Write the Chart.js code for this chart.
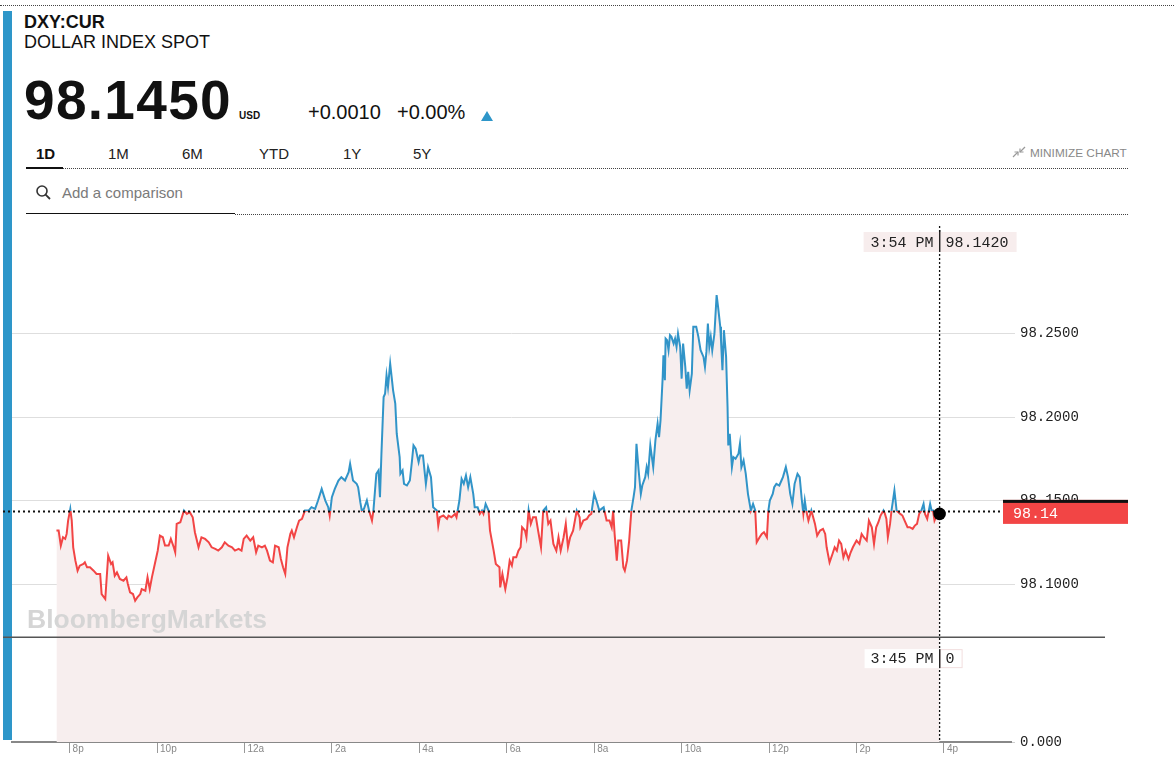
<!DOCTYPE html>
<html>
<head>
<meta charset="utf-8">
<script src="https://cdn.jsdelivr.net/npm/chart.js@4.4.1/dist/chart.umd.min.js"></script>
<style>
  html, body { margin: 0; padding: 0; background: #fff; overflow: hidden; }
  body { width: 1174px; height: 784px; position: relative; font-family: "Liberation Sans", Arial, sans-serif; color: #111; }
  .abs { position: absolute; line-height: 1; white-space: nowrap; }
  .dots { position: absolute; height: 0; border-top: 1px dotted #444; }
  .solid { position: absolute; background: #111; }
</style>
</head>
<body>
<div class="dots" style="left:0;top:5px;width:1174px;"></div>
<div style="position:absolute;left:3px;top:11px;width:9px;height:729px;background:#2e96c9;"></div>

<div class="abs" style="left:24px;top:13px;font-size:18px;font-weight:bold;">DXY:CUR</div>
<div class="abs" style="left:24px;top:33px;font-size:18px;">DOLLAR INDEX SPOT</div>
<div class="abs" style="left:24px;top:73px;font-size:55px;font-weight:bold;letter-spacing:1.3px;">98.1450</div>
<div class="abs" style="left:239px;top:111px;font-size:10px;font-weight:bold;">USD</div>
<div class="abs" style="left:308px;top:102px;font-size:20px;">+0.0010</div>
<div class="abs" style="left:397px;top:102px;font-size:20px;">+0.00%</div>
<svg style="position:absolute;left:480px;top:110px" width="14" height="12"><polygon points="1,11 13,11 7,1" fill="#2e96c9"/></svg>

<div class="abs" style="left:36px;top:146px;font-size:15px;font-weight:bold;">1D</div>
<div class="abs" style="left:108px;top:146px;font-size:15px;color:#222;">1M</div>
<div class="abs" style="left:182px;top:146px;font-size:15px;color:#222;">6M</div>
<div class="abs" style="left:259px;top:146px;font-size:15px;color:#222;">YTD</div>
<div class="abs" style="left:343px;top:146px;font-size:15px;color:#222;">1Y</div>
<div class="abs" style="left:413px;top:146px;font-size:15px;color:#222;">5Y</div>
<div class="solid" style="left:26px;top:167px;width:37px;height:2px;"></div>
<div class="dots" style="left:63px;top:168px;width:1065px;"></div>

<svg style="position:absolute;left:1012px;top:146px" width="14" height="12">
  <g stroke="#999" stroke-width="1.2" fill="none">
    <line x1="13" y1="1" x2="8" y2="6"/><polyline points="8,2.5 8,6 11.5,6"/>
    <line x1="1" y1="11" x2="6" y2="6"/><polyline points="2.5,6 6,6 6,9.5"/>
  </g>
</svg>
<div class="abs" style="left:1030px;top:147.5px;font-size:11.8px;color:#888;">MINIMIZE CHART</div>

<svg style="position:absolute;left:34px;top:184px" width="20" height="18">
  <circle cx="8" cy="7" r="5" stroke="#333" stroke-width="1.6" fill="none"/>
  <line x1="11.6" y1="10.6" x2="16" y2="15" stroke="#333" stroke-width="1.8"/>
</svg>
<div class="abs" style="left:62px;top:185px;font-size:15px;color:#7a7a7a;">Add a comparison</div>
<div class="solid" style="left:26px;top:212.5px;width:209px;height:1.5px;"></div>
<div class="dots" style="left:235px;top:214px;width:893px;"></div>

<canvas id="chart" width="1174" height="564" style="position:absolute;left:0;top:220px;"></canvas>

<script>
// minutes after 8:00 PM (previous day) and DXY spot values
const times = [
  -18, -15, -12, -9, -6, -4, -2, 1, 3, 5, 8, 11, 14, 19, 21, 24, 28, 33, 37, 42,
  44, 49, 53, 57, 59, 62, 65, 69, 74, 78, 80, 83, 87, 90, 93, 97, 99, 104, 107, 110,
  113, 117, 121, 124, 128, 131, 136, 139, 143, 145, 147, 152, 157, 161, 165, 169, 172, 177, 181, 186,
  191, 195, 200, 204, 209, 213, 218, 223, 227, 232, 236, 239, 243, 248, 252, 256, 259, 264, 268, 271,
  275, 279, 282, 287, 290, 293, 296, 299, 303, 305, 308, 312, 315, 319, 323, 328, 332, 337, 341, 346,
  351, 355, 357, 360, 364, 369, 373, 378, 383, 385, 389, 394, 396, 399, 401, 404, 408, 411, 415, 417,
  421, 424, 426, 428, 431, 433, 435, 437, 440, 442, 444, 447, 449, 453, 454, 457, 459, 463, 467, 470,
  472, 475, 479, 481, 485, 489, 492, 496, 499, 504, 506, 508, 513, 518, 520, 524, 529, 531, 535, 538,
  541, 544, 547, 550, 554, 556, 560, 563, 566, 568, 571, 575, 577, 582, 585, 590, 591, 594, 598, 601,
  604, 607, 609, 613, 616, 619, 621, 625, 627, 630, 633, 636, 640, 643, 647, 650, 654, 657, 660, 664,
  668, 671, 674, 678, 681, 684, 687, 691, 696, 700, 701, 705, 710, 713, 716, 720, 723, 727, 730, 733,
  737, 741, 744, 746, 748, 751, 753, 757, 760, 762, 765, 768, 771, 774, 776, 778, 781, 784, 786, 790,
  792, 794, 797, 801, 804, 807, 809, 811, 814, 815, 817, 818, 820, 822, 824, 826, 829, 831, 833, 835,
  838, 840, 842, 845, 847, 849, 851, 854, 856, 860, 863, 866, 870, 872, 874, 876, 878, 880, 882, 885,
  888, 890, 893, 894, 896, 898, 901, 903, 904, 906, 909, 911, 914, 918, 920, 922, 925, 928, 931, 935,
  938, 941, 943, 947, 950, 953, 957, 959, 961, 965, 967, 970, 974, 977, 979, 983, 986, 989, 992, 995,
  999, 1002, 1005, 1007, 1009, 1011, 1014, 1018, 1023, 1026, 1030, 1034, 1037, 1039, 1043, 1047, 1050, 1053, 1056, 1059,
  1062, 1065, 1069, 1072, 1075, 1080, 1084, 1087, 1090, 1094, 1097, 1101, 1104, 1107, 1110, 1113, 1117, 1119, 1121, 1123,
  1126, 1128, 1130, 1132, 1135, 1140, 1143, 1146, 1150, 1153, 1157, 1160, 1163, 1166, 1169, 1172, 1174, 1177, 1181, 1183,
  1185, 1187, 1190, 1194
];
const values = [
  98.132, 98.132, 98.123, 98.128, 98.127, 98.130, 98.138, 98.145, 98.138, 98.122, 98.114, 98.108, 98.111, 98.112, 98.113, 98.110, 98.110, 98.108, 98.106, 98.106,
  98.094, 98.091, 98.117, 98.112, 98.113, 98.105, 98.107, 98.103, 98.102, 98.104, 98.100, 98.095, 98.094, 98.090, 98.092, 98.094, 98.097, 98.096, 98.104, 98.097,
  98.104, 98.112, 98.120, 98.129, 98.128, 98.123, 98.123, 98.127, 98.122, 98.119, 98.136, 98.137, 98.144, 98.142, 98.143, 98.140, 98.131, 98.122, 98.128, 98.127,
  98.125, 98.122, 98.121, 98.120, 98.122, 98.125, 98.123, 98.122, 98.120, 98.121, 98.120, 98.127, 98.129, 98.126, 98.128, 98.119, 98.123, 98.122, 98.123, 98.120,
  98.114, 98.113, 98.123, 98.122, 98.115, 98.110, 98.106, 98.122, 98.130, 98.132, 98.128, 98.134, 98.138, 98.139, 98.144, 98.144, 98.146, 98.145, 98.150, 98.157,
  98.150, 98.146, 98.141, 98.152, 98.157, 98.162, 98.164, 98.162, 98.167, 98.172, 98.162, 98.160, 98.158, 98.149, 98.144, 98.145, 98.150, 98.144, 98.138, 98.144,
  98.166, 98.168, 98.152, 98.178, 98.212, 98.214, 98.225, 98.218, 98.232, 98.224, 98.216, 98.208, 98.190, 98.176, 98.166, 98.168, 98.160, 98.159, 98.162, 98.174,
  98.183, 98.181, 98.173, 98.177, 98.177, 98.160, 98.170, 98.164, 98.146, 98.144, 98.135, 98.140, 98.141, 98.139, 98.141, 98.140, 98.142, 98.140, 98.150, 98.163,
  98.160, 98.165, 98.158, 98.164, 98.154, 98.146, 98.146, 98.142, 98.144, 98.142, 98.148, 98.144, 98.132, 98.120, 98.112, 98.110, 98.098, 98.106, 98.097, 98.104,
  98.114, 98.111, 98.116, 98.116, 98.120, 98.122, 98.134, 98.132, 98.128, 98.144, 98.136, 98.140, 98.140, 98.132, 98.122, 98.144, 98.146, 98.136, 98.138, 98.124,
  98.120, 98.128, 98.120, 98.128, 98.136, 98.122, 98.128, 98.132, 98.144, 98.140, 98.134, 98.138, 98.139, 98.141, 98.142, 98.154, 98.150, 98.144, 98.145, 98.146,
  98.138, 98.138, 98.134, 98.144, 98.130, 98.114, 98.126, 98.126, 98.110, 98.108, 98.114, 98.126, 98.144, 98.152, 98.158, 98.184, 98.168, 98.154, 98.159, 98.164,
  98.170, 98.166, 98.183, 98.170, 98.186, 98.196, 98.188, 98.198, 98.224, 98.237, 98.222, 98.247, 98.246, 98.240, 98.249, 98.248, 98.244, 98.247, 98.242, 98.250,
  98.242, 98.223, 98.244, 98.230, 98.217, 98.227, 98.216, 98.226, 98.254, 98.254, 98.248, 98.240, 98.236, 98.230, 98.239, 98.256, 98.242, 98.248, 98.240, 98.250,
  98.273, 98.266, 98.254, 98.246, 98.228, 98.252, 98.236, 98.206, 98.183, 98.190, 98.170, 98.176, 98.175, 98.178, 98.184, 98.170, 98.174, 98.166, 98.154, 98.144,
  98.148, 98.144, 98.125, 98.128, 98.130, 98.131, 98.128, 98.144, 98.150, 98.154, 98.158, 98.160, 98.159, 98.162, 98.164, 98.170, 98.164, 98.154, 98.148, 98.160,
  98.166, 98.164, 98.150, 98.142, 98.150, 98.144, 98.138, 98.144, 98.136, 98.129, 98.132, 98.133, 98.130, 98.122, 98.113, 98.118, 98.122, 98.120, 98.126, 98.124,
  98.116, 98.120, 98.115, 98.119, 98.122, 98.126, 98.124, 98.130, 98.128, 98.126, 98.138, 98.134, 98.124, 98.134, 98.137, 98.141, 98.144, 98.142, 98.139, 98.128,
  98.136, 98.144, 98.150, 98.156, 98.144, 98.142, 98.141, 98.138, 98.134, 98.134, 98.133, 98.135, 98.136, 98.142, 98.144, 98.148, 98.142, 98.139, 98.148, 98.144,
  98.144, 98.138, 98.141, 98.142
];

const prevClose = 98.144;
const xTickValues = [0, 120, 240, 360, 480, 600, 720, 840, 960, 1080, 1200];
const xTickLabels = ['8p', '10p', '12a', '2a', '4a', '6a', '8a', '10a', '12p', '2p', '4p'];
const yTickValues = [98.10, 98.15, 98.20, 98.25];
const volTime = '3:45 PM';
const volValue = '0';
const volAxisLabel = '0.000';

const xMin = -79, xMax = 1292;
const yMin = 98.0054, yMax = 98.3132;
const panelSplit = 0.796;

const BLUE = '#3194c8';
const RED = '#f24545';
const MONO = '"Liberation Mono", "DejaVu Sans Mono", monospace';

const fmtTime = (m) => {
    const t = (20 * 60 + m) % 1440;
    let h = Math.floor(t / 60);
    const mm = t % 60;
    const ap = h >= 12 ? 'PM' : 'AM';
    h = h % 12 || 12;
    return h + ':' + String(mm).padStart(2, '0') + ' ' + ap;
};

const splitColor = (context) => {
    const chart = context.chart;
    const area = chart.chartArea;
    if (!area || !chart.scales.y) return BLUE;
    const yp = chart.scales.y.getPixelForValue(prevClose);
    const g = chart.ctx.createLinearGradient(0, area.top, 0, area.bottom);
    const f = Math.min(1, Math.max(0, (yp - area.top) / (area.bottom - area.top)));
    g.addColorStop(0, BLUE);
    g.addColorStop(f, BLUE);
    g.addColorStop(f, RED);
    g.addColorStop(1, RED);
    return g;
};

const overlay = {
    id: 'overlay',
    afterDatasetsDraw(chart) {
        const { ctx, chartArea: a, scales: { y } } = chart;
        const meta = chart.getDatasetMeta(0);
        const last = meta.data[meta.data.length - 1];
        const px = last.x, py = last.y;
        const splitY = a.top + (a.bottom - a.top) * panelSplit;
        const lastIdx = values.length - 1;

        ctx.save();

        // watermark
        ctx.font = 'bold 26.5px "Liberation Sans", Arial, sans-serif';
        ctx.fillStyle = '#d5d5d5';
        ctx.textAlign = 'left';
        ctx.textBaseline = 'alphabetic';
        ctx.fillText('BloombergMarkets', 27, splitY - 9);

        // panel divider
        ctx.strokeStyle = '#555';
        ctx.lineWidth = 1.5;
        ctx.beginPath();
        ctx.moveTo(3, splitY);
        ctx.lineTo(1105, splitY);
        ctx.stroke();

        // previous close
        const cy = Math.round(y.getPixelForValue(prevClose)) + 0.5;
        ctx.strokeStyle = '#111';
        ctx.lineWidth = 2;
        ctx.setLineDash([2, 3]);
        ctx.beginPath();
        ctx.moveTo(3, cy);
        ctx.lineTo(a.right, cy);
        ctx.stroke();

        // crosshair
        ctx.lineWidth = 1.3;
        ctx.setLineDash([2, 2]);
        ctx.beginPath();
        ctx.moveTo(px, a.top - 2);
        ctx.lineTo(px, a.bottom);
        ctx.stroke();
        ctx.setLineDash([]);

        // last point dot
        ctx.fillStyle = '#000';
        ctx.beginPath();
        ctx.arc(px, py, 6.3, 0, Math.PI * 2);
        ctx.fill();

        ctx.font = '15px ' + MONO;
        ctx.textBaseline = 'middle';

        // top crosshair label
        ctx.fillStyle = '#f7eded';
        ctx.fillRect(px - 76, a.top + 4, 153, 20);
        ctx.fillStyle = '#111';
        ctx.fillRect(px - 0.5, a.top + 2, 1.3, 22);
        ctx.fillStyle = '#222';
        ctx.textAlign = 'right';
        ctx.fillText(fmtTime(times[lastIdx]), px - 6, a.top + 15);
        ctx.textAlign = 'left';
        ctx.fillText(values[lastIdx].toFixed(4), px + 6, a.top + 15);

        // lower panel label
        ctx.fillStyle = '#fff';
        ctx.fillRect(px - 75, splitY + 12, 98, 19);
        ctx.strokeStyle = '#f2dede';
        ctx.lineWidth = 1;
        ctx.strokeRect(px + 0.5, splitY + 12.5, 22, 18);
        ctx.fillStyle = '#111';
        ctx.fillRect(px - 0.5, splitY + 12, 1.3, 19);
        ctx.fillStyle = '#222';
        ctx.textAlign = 'right';
        ctx.fillText(volTime, px - 6, splitY + 22);
        ctx.textAlign = 'left';
        ctx.fillText(volValue, px + 6, splitY + 22);

        // last value tag on the axis
        ctx.fillStyle = RED;
        ctx.fillRect(1003, py - 14, 125, 24);
        ctx.fillStyle = '#111';
        ctx.fillRect(1003, py - 14, 125, 3);
        ctx.fillStyle = '#fff';
        ctx.fillText(values[lastIdx].toFixed(2), 1013, py + 0.5);

        ctx.restore();
    }
};

new Chart(document.getElementById('chart'), {
    type: 'line',
    data: {
        datasets: [{
            data: times.map((t, i) => ({ x: t, y: values[i] })),
            borderColor: splitColor,
            borderWidth: 2,
            backgroundColor: '#f7eeee',
            fill: 'start',
            tension: 0,
            pointRadius: 0,
            pointHoverRadius: 0
        }]
    },
    options: {
        responsive: false,
        animation: false,
        events: [],
        layout: { padding: { top: 8, left: 12, right: 0, bottom: 0 } },
        plugins: {
            legend: { display: false },
            tooltip: { enabled: false }
        },
        scales: {
            x: {
                type: 'linear',
                min: xMin,
                max: xMax,
                afterBuildTicks: (s) => { s.ticks = xTickValues.map(v => ({ value: v })); },
                afterFit: (s) => { s.height = 42; s.paddingLeft = 0; s.paddingRight = 0; },
                grid: { drawOnChartArea: false, drawTicks: true, tickLength: 11, color: '#999', lineWidth: 1 },
                border: { display: true, color: '#888', width: 2 },
                ticks: {
                    align: 'start',
                    labelOffset: 3,
                    padding: -10,
                    maxRotation: 0,
                    autoSkip: false,
                    color: '#888',
                    font: { family: '"Liberation Sans", Arial, sans-serif', size: 10 },
                    callback: (v, i) => xTickLabels[i]
                }
            },
            y: {
                type: 'linear',
                position: 'right',
                min: yMin,
                max: yMax,
                afterBuildTicks: (s) => { s.ticks = [yMin, ...yTickValues].map(v => ({ value: v })); },
                afterFit: (s) => { s.width = 163; s.paddingTop = 0; s.paddingBottom = 0; },
                grid: {
                    color: (c) => (c.tick && c.tick.value === yMin ? '#cfcfcf' : '#dedede'),
                    lineWidth: 1,
                    drawTicks: true,
                    tickLength: 4
                },
                border: { display: false },
                ticks: {
                    padding: 5,
                    color: '#222',
                    font: { family: MONO, size: 14 },
                    callback: (v) => (v === yMin ? volAxisLabel : Number(v).toFixed(4))
                }
            }
        }
    },
    plugins: [overlay]
});
</script>
</body>
</html>
